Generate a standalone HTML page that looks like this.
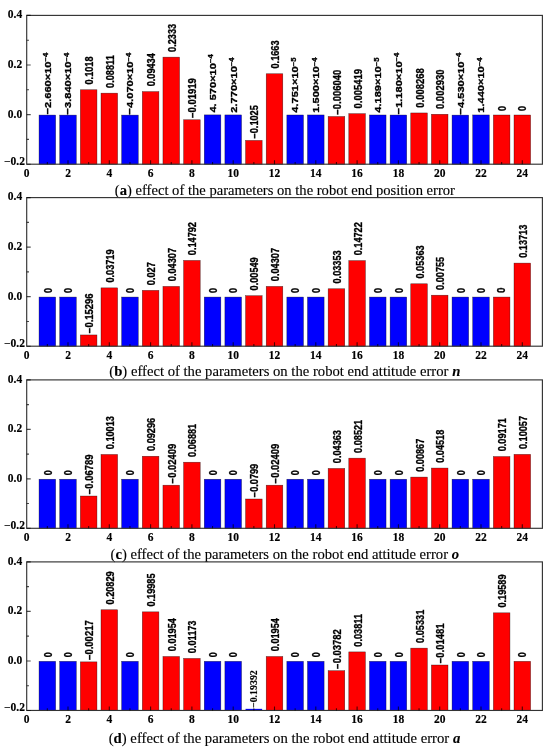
<!DOCTYPE html>
<html><head><meta charset="utf-8"><title>Figure</title>
<style>
html,body{margin:0;padding:0;background:#fff}
svg{display:block}
.lab{font-family:"Liberation Sans",Arial,sans-serif;font-weight:bold;font-size:10.2px;fill:#000;stroke:#000;stroke-width:0.32px}
.tk{font-family:"Liberation Serif","Times New Roman",serif;font-weight:bold;font-size:11.5px;fill:#000;stroke:#000;stroke-width:0.15px}
.cap{font-family:"Liberation Serif","Times New Roman",serif;font-size:14.6px;fill:#000;stroke:#000;stroke-width:0.12px}
</style></head><body>
<svg width="550" height="750" viewBox="0 0 550 750">
<rect width="550" height="750" fill="#fff"/>
<g>
<rect x="39.05" y="115.07" width="16.60" height="49.13" fill="#0000ff" stroke="#000" stroke-opacity="0.65" stroke-width="0.5"/>
<rect x="59.70" y="115.10" width="16.60" height="49.10" fill="#0000ff" stroke="#000" stroke-opacity="0.65" stroke-width="0.5"/>
<rect x="80.35" y="89.75" width="16.60" height="74.45" fill="#ff0000" stroke="#000" stroke-opacity="0.65" stroke-width="0.5"/>
<rect x="101.00" y="93.15" width="16.60" height="71.05" fill="#ff0000" stroke="#000" stroke-opacity="0.65" stroke-width="0.5"/>
<rect x="121.65" y="115.10" width="16.60" height="49.10" fill="#0000ff" stroke="#000" stroke-opacity="0.65" stroke-width="0.5"/>
<rect x="142.30" y="91.60" width="16.60" height="72.60" fill="#ff0000" stroke="#000" stroke-opacity="0.65" stroke-width="0.5"/>
<rect x="162.95" y="57.14" width="16.60" height="107.06" fill="#ff0000" stroke="#000" stroke-opacity="0.65" stroke-width="0.5"/>
<rect x="183.60" y="119.76" width="16.60" height="44.44" fill="#ff0000" stroke="#000" stroke-opacity="0.65" stroke-width="0.5"/>
<rect x="204.25" y="114.89" width="16.60" height="49.31" fill="#0000ff" stroke="#000" stroke-opacity="0.65" stroke-width="0.5"/>
<rect x="224.90" y="114.93" width="16.60" height="49.27" fill="#0000ff" stroke="#000" stroke-opacity="0.65" stroke-width="0.5"/>
<rect x="245.55" y="140.42" width="16.60" height="23.78" fill="#ff0000" stroke="#000" stroke-opacity="0.65" stroke-width="0.5"/>
<rect x="266.20" y="73.76" width="16.60" height="90.44" fill="#ff0000" stroke="#000" stroke-opacity="0.65" stroke-width="0.5"/>
<rect x="286.85" y="114.99" width="16.60" height="49.21" fill="#0000ff" stroke="#000" stroke-opacity="0.65" stroke-width="0.5"/>
<rect x="307.50" y="114.96" width="16.60" height="49.24" fill="#0000ff" stroke="#000" stroke-opacity="0.65" stroke-width="0.5"/>
<rect x="328.15" y="116.50" width="16.60" height="47.70" fill="#ff0000" stroke="#000" stroke-opacity="0.65" stroke-width="0.5"/>
<rect x="348.80" y="113.66" width="16.60" height="50.54" fill="#ff0000" stroke="#000" stroke-opacity="0.65" stroke-width="0.5"/>
<rect x="369.45" y="114.99" width="16.60" height="49.21" fill="#0000ff" stroke="#000" stroke-opacity="0.65" stroke-width="0.5"/>
<rect x="390.10" y="115.03" width="16.60" height="49.17" fill="#0000ff" stroke="#000" stroke-opacity="0.65" stroke-width="0.5"/>
<rect x="410.75" y="112.95" width="16.60" height="51.25" fill="#ff0000" stroke="#000" stroke-opacity="0.65" stroke-width="0.5"/>
<rect x="431.40" y="114.27" width="16.60" height="49.93" fill="#ff0000" stroke="#000" stroke-opacity="0.65" stroke-width="0.5"/>
<rect x="452.05" y="115.11" width="16.60" height="49.09" fill="#0000ff" stroke="#000" stroke-opacity="0.65" stroke-width="0.5"/>
<rect x="472.70" y="114.96" width="16.60" height="49.24" fill="#0000ff" stroke="#000" stroke-opacity="0.65" stroke-width="0.5"/>
<rect x="493.35" y="115.00" width="16.60" height="49.20" fill="#ff0000" stroke="#000" stroke-opacity="0.65" stroke-width="0.5"/>
<rect x="514.00" y="115.00" width="16.60" height="49.20" fill="#ff0000" stroke="#000" stroke-opacity="0.65" stroke-width="0.5"/>
<rect x="26.70" y="15.40" width="515.70" height="148.80" fill="none" stroke="#333" stroke-width="1.15"/>
<path d="M47.35 164.20v-2.30M68.00 164.20v-4.00M88.65 164.20v-2.30M109.30 164.20v-4.00M129.95 164.20v-2.30M150.60 164.20v-4.00M171.25 164.20v-2.30M191.90 164.20v-4.00M212.55 164.20v-2.30M233.20 164.20v-4.00M253.85 164.20v-2.30M274.50 164.20v-4.00M295.15 164.20v-2.30M315.80 164.20v-4.00M336.45 164.20v-2.30M357.10 164.20v-4.00M377.75 164.20v-2.30M398.40 164.20v-4.00M419.05 164.20v-2.30M439.70 164.20v-4.00M460.35 164.20v-2.30M481.00 164.20v-4.00M501.65 164.20v-2.30M522.30 164.20v-4.00M26.70 164.20h4.00M26.70 139.40h2.30M26.70 114.60h4.00M26.70 89.80h2.30M26.70 65.00h4.00M26.70 40.20h2.30M26.70 15.40h4.00" stroke="#000" stroke-opacity="0.7" stroke-width="1.1" fill="none"/>
<text class="tk" x="26.70" y="176.80" text-anchor="middle">0</text>
<text class="tk" x="68.00" y="176.80" text-anchor="middle">2</text>
<text class="tk" x="109.30" y="176.80" text-anchor="middle">4</text>
<text class="tk" x="150.60" y="176.80" text-anchor="middle">6</text>
<text class="tk" x="191.90" y="176.80" text-anchor="middle">8</text>
<text class="tk" x="233.20" y="176.80" text-anchor="middle">10</text>
<text class="tk" x="274.50" y="176.80" text-anchor="middle">12</text>
<text class="tk" x="315.80" y="176.80" text-anchor="middle">14</text>
<text class="tk" x="357.10" y="176.80" text-anchor="middle">16</text>
<text class="tk" x="398.40" y="176.80" text-anchor="middle">18</text>
<text class="tk" x="439.70" y="176.80" text-anchor="middle">20</text>
<text class="tk" x="481.00" y="176.80" text-anchor="middle">22</text>
<text class="tk" x="522.30" y="176.80" text-anchor="middle">24</text>
<text class="tk" x="22.20" y="18.20" text-anchor="end">0.4</text>
<text class="tk" x="22.20" y="68.00" text-anchor="end">0.2</text>
<text class="tk" x="22.20" y="117.70" text-anchor="end">0.0</text>
<text class="tk" x="24.90" y="164.50" text-anchor="end">−0.2</text>
<text class="lab" style="font-size:9.8px" transform="translate(50.65 114.37) rotate(-90) scale(1.13 1)" x="0" y="0">−2.660×10<tspan dy="-2.4" style="font-size:6.8px">−4</tspan></text>
<text class="lab" style="font-size:9.8px" transform="translate(71.30 114.40) rotate(-90) scale(1.13 1)" x="0" y="0">−3.840×10<tspan dy="-2.4" style="font-size:6.8px">−4</tspan></text>
<text class="lab" transform="translate(93.15 84.50) rotate(-90) scale(0.9 1)" x="0" y="0">0.1018</text>
<text class="lab" transform="translate(113.80 87.90) rotate(-90) scale(0.9 1)" x="0" y="0">0.08811</text>
<text class="lab" style="font-size:9.8px" transform="translate(133.25 114.40) rotate(-90) scale(1.13 1)" x="0" y="0">−4.070×10<tspan dy="-2.4" style="font-size:6.8px">−4</tspan></text>
<text class="lab" transform="translate(155.10 86.35) rotate(-90) scale(0.9 1)" x="0" y="0">0.09434</text>
<text class="lab" transform="translate(175.75 51.89) rotate(-90) scale(0.9 1)" x="0" y="0">0.2333</text>
<text class="lab" transform="translate(196.40 117.96) rotate(-90) scale(0.93 1)" x="0" y="0">−0.01919</text>
<text class="lab" style="font-size:9.8px" transform="translate(215.85 112.59) rotate(-90) scale(1.13 1)" x="0" y="0">4. 570×10<tspan dy="-2.4" style="font-size:6.8px">−4</tspan></text>
<text class="lab" style="font-size:9.8px" transform="translate(236.50 112.63) rotate(-90) scale(1.13 1)" x="0" y="0">2.770×10<tspan dy="-2.4" style="font-size:6.8px">−4</tspan></text>
<text class="lab" transform="translate(258.35 138.62) rotate(-90) scale(0.9 1)" x="0" y="0">−0.1025</text>
<text class="lab" transform="translate(279.00 68.51) rotate(-90) scale(0.9 1)" x="0" y="0">0.1663</text>
<text class="lab" style="font-size:9.8px" transform="translate(298.45 112.69) rotate(-90) scale(1.13 1)" x="0" y="0">4.751×10<tspan dy="-2.4" style="font-size:6.8px">−5</tspan></text>
<text class="lab" style="font-size:9.8px" transform="translate(319.10 112.66) rotate(-90) scale(1.13 1)" x="0" y="0">1.500×10<tspan dy="-2.4" style="font-size:6.8px">−4</tspan></text>
<text class="lab" transform="translate(340.95 114.70) rotate(-90) scale(0.93 1)" x="0" y="0">−0.006040</text>
<text class="lab" transform="translate(361.60 108.41) rotate(-90) scale(0.93 1)" x="0" y="0">0.005419</text>
<text class="lab" style="font-size:9.8px" transform="translate(381.05 112.69) rotate(-90) scale(1.13 1)" x="0" y="0">4.189×10<tspan dy="-2.4" style="font-size:6.8px">−5</tspan></text>
<text class="lab" style="font-size:9.8px" transform="translate(401.70 114.33) rotate(-90) scale(1.13 1)" x="0" y="0">−1.180×10<tspan dy="-2.4" style="font-size:6.8px">−4</tspan></text>
<text class="lab" transform="translate(423.55 107.70) rotate(-90) scale(0.93 1)" x="0" y="0">0.008268</text>
<text class="lab" transform="translate(444.20 109.02) rotate(-90) scale(0.93 1)" x="0" y="0">0.002930</text>
<text class="lab" style="font-size:9.8px" transform="translate(463.65 114.41) rotate(-90) scale(1.13 1)" x="0" y="0">−4.530×10<tspan dy="-2.4" style="font-size:6.8px">−4</tspan></text>
<text class="lab" style="font-size:9.8px" transform="translate(484.30 112.66) rotate(-90) scale(1.13 1)" x="0" y="0">1.440×10<tspan dy="-2.4" style="font-size:6.8px">−4</tspan></text>
<text class="lab" style="font-size:10px" transform="translate(505.80 110.90) rotate(-90) scale(0.9 1)" x="0" y="0">0</text>
<text class="lab" style="font-size:10px" transform="translate(526.45 110.90) rotate(-90) scale(0.9 1)" x="0" y="0">0</text>
<text class="cap" style="font-size:14.6px" x="284.90" y="194.50" text-anchor="middle">(<tspan font-weight="bold">a</tspan>) effect of the parameters on the robot end position error</text>
</g>
<g>
<rect x="39.05" y="297.07" width="16.60" height="49.13" fill="#0000ff" stroke="#000" stroke-opacity="0.65" stroke-width="0.5"/>
<rect x="59.70" y="297.07" width="16.60" height="49.13" fill="#0000ff" stroke="#000" stroke-opacity="0.65" stroke-width="0.5"/>
<rect x="80.35" y="334.95" width="16.60" height="11.25" fill="#ff0000" stroke="#000" stroke-opacity="0.65" stroke-width="0.5"/>
<rect x="101.00" y="287.86" width="16.60" height="58.34" fill="#ff0000" stroke="#000" stroke-opacity="0.65" stroke-width="0.5"/>
<rect x="121.65" y="297.07" width="16.60" height="49.13" fill="#0000ff" stroke="#000" stroke-opacity="0.65" stroke-width="0.5"/>
<rect x="142.30" y="290.38" width="16.60" height="55.82" fill="#ff0000" stroke="#000" stroke-opacity="0.65" stroke-width="0.5"/>
<rect x="162.95" y="286.40" width="16.60" height="59.80" fill="#ff0000" stroke="#000" stroke-opacity="0.65" stroke-width="0.5"/>
<rect x="183.60" y="260.43" width="16.60" height="85.77" fill="#ff0000" stroke="#000" stroke-opacity="0.65" stroke-width="0.5"/>
<rect x="204.25" y="297.07" width="16.60" height="49.13" fill="#0000ff" stroke="#000" stroke-opacity="0.65" stroke-width="0.5"/>
<rect x="224.90" y="297.07" width="16.60" height="49.13" fill="#0000ff" stroke="#000" stroke-opacity="0.65" stroke-width="0.5"/>
<rect x="245.55" y="295.71" width="16.60" height="50.49" fill="#ff0000" stroke="#000" stroke-opacity="0.65" stroke-width="0.5"/>
<rect x="266.20" y="286.40" width="16.60" height="59.80" fill="#ff0000" stroke="#000" stroke-opacity="0.65" stroke-width="0.5"/>
<rect x="286.85" y="297.07" width="16.60" height="49.13" fill="#0000ff" stroke="#000" stroke-opacity="0.65" stroke-width="0.5"/>
<rect x="307.50" y="297.07" width="16.60" height="49.13" fill="#0000ff" stroke="#000" stroke-opacity="0.65" stroke-width="0.5"/>
<rect x="328.15" y="288.76" width="16.60" height="57.44" fill="#ff0000" stroke="#000" stroke-opacity="0.65" stroke-width="0.5"/>
<rect x="348.80" y="260.61" width="16.60" height="85.59" fill="#ff0000" stroke="#000" stroke-opacity="0.65" stroke-width="0.5"/>
<rect x="369.45" y="297.07" width="16.60" height="49.13" fill="#0000ff" stroke="#000" stroke-opacity="0.65" stroke-width="0.5"/>
<rect x="390.10" y="297.07" width="16.60" height="49.13" fill="#0000ff" stroke="#000" stroke-opacity="0.65" stroke-width="0.5"/>
<rect x="410.75" y="283.78" width="16.60" height="62.42" fill="#ff0000" stroke="#000" stroke-opacity="0.65" stroke-width="0.5"/>
<rect x="431.40" y="295.20" width="16.60" height="51.00" fill="#ff0000" stroke="#000" stroke-opacity="0.65" stroke-width="0.5"/>
<rect x="452.05" y="297.07" width="16.60" height="49.13" fill="#0000ff" stroke="#000" stroke-opacity="0.65" stroke-width="0.5"/>
<rect x="472.70" y="297.07" width="16.60" height="49.13" fill="#0000ff" stroke="#000" stroke-opacity="0.65" stroke-width="0.5"/>
<rect x="493.35" y="297.07" width="16.60" height="49.13" fill="#ff0000" stroke="#000" stroke-opacity="0.65" stroke-width="0.5"/>
<rect x="514.00" y="263.10" width="16.60" height="83.10" fill="#ff0000" stroke="#000" stroke-opacity="0.65" stroke-width="0.5"/>
<rect x="26.70" y="197.60" width="515.70" height="148.60" fill="none" stroke="#333" stroke-width="1.15"/>
<path d="M47.35 346.20v-2.30M68.00 346.20v-4.00M88.65 346.20v-2.30M109.30 346.20v-4.00M129.95 346.20v-2.30M150.60 346.20v-4.00M171.25 346.20v-2.30M191.90 346.20v-4.00M212.55 346.20v-2.30M233.20 346.20v-4.00M253.85 346.20v-2.30M274.50 346.20v-4.00M295.15 346.20v-2.30M315.80 346.20v-4.00M336.45 346.20v-2.30M357.10 346.20v-4.00M377.75 346.20v-2.30M398.40 346.20v-4.00M419.05 346.20v-2.30M439.70 346.20v-4.00M460.35 346.20v-2.30M481.00 346.20v-4.00M501.65 346.20v-2.30M522.30 346.20v-4.00M26.70 346.20h4.00M26.70 321.43h2.30M26.70 296.67h4.00M26.70 271.90h2.30M26.70 247.13h4.00M26.70 222.37h2.30M26.70 197.60h4.00" stroke="#000" stroke-opacity="0.7" stroke-width="1.1" fill="none"/>
<text class="tk" x="26.70" y="358.80" text-anchor="middle">0</text>
<text class="tk" x="68.00" y="358.80" text-anchor="middle">2</text>
<text class="tk" x="109.30" y="358.80" text-anchor="middle">4</text>
<text class="tk" x="150.60" y="358.80" text-anchor="middle">6</text>
<text class="tk" x="191.90" y="358.80" text-anchor="middle">8</text>
<text class="tk" x="233.20" y="358.80" text-anchor="middle">10</text>
<text class="tk" x="274.50" y="358.80" text-anchor="middle">12</text>
<text class="tk" x="315.80" y="358.80" text-anchor="middle">14</text>
<text class="tk" x="357.10" y="358.80" text-anchor="middle">16</text>
<text class="tk" x="398.40" y="358.80" text-anchor="middle">18</text>
<text class="tk" x="439.70" y="358.80" text-anchor="middle">20</text>
<text class="tk" x="481.00" y="358.80" text-anchor="middle">22</text>
<text class="tk" x="522.30" y="358.80" text-anchor="middle">24</text>
<text class="tk" x="22.20" y="200.40" text-anchor="end">0.4</text>
<text class="tk" x="22.20" y="250.13" text-anchor="end">0.2</text>
<text class="tk" x="22.20" y="299.77" text-anchor="end">0.0</text>
<text class="tk" x="24.90" y="346.50" text-anchor="end">−0.2</text>
<text class="lab" style="font-size:10px" transform="translate(51.50 292.97) rotate(-90) scale(0.9 1)" x="0" y="0">0</text>
<text class="lab" style="font-size:10px" transform="translate(72.15 292.97) rotate(-90) scale(0.9 1)" x="0" y="0">0</text>
<text class="lab" transform="translate(93.15 333.15) rotate(-90) scale(0.93 1)" x="0" y="0">−0.15296</text>
<text class="lab" transform="translate(113.80 282.61) rotate(-90) scale(0.9 1)" x="0" y="0">0.03719</text>
<text class="lab" style="font-size:10px" transform="translate(134.10 292.97) rotate(-90) scale(0.9 1)" x="0" y="0">0</text>
<text class="lab" transform="translate(155.10 285.13) rotate(-90) scale(0.9 1)" x="0" y="0">0.027</text>
<text class="lab" transform="translate(175.75 281.15) rotate(-90) scale(0.9 1)" x="0" y="0">0.04307</text>
<text class="lab" transform="translate(196.40 255.18) rotate(-90) scale(0.9 1)" x="0" y="0">0.14792</text>
<text class="lab" style="font-size:10px" transform="translate(216.70 292.97) rotate(-90) scale(0.9 1)" x="0" y="0">0</text>
<text class="lab" style="font-size:10px" transform="translate(237.35 292.97) rotate(-90) scale(0.9 1)" x="0" y="0">0</text>
<text class="lab" transform="translate(258.35 290.46) rotate(-90) scale(0.9 1)" x="0" y="0">0.00549</text>
<text class="lab" transform="translate(279.00 281.15) rotate(-90) scale(0.9 1)" x="0" y="0">0.04307</text>
<text class="lab" style="font-size:10px" transform="translate(299.30 292.97) rotate(-90) scale(0.9 1)" x="0" y="0">0</text>
<text class="lab" style="font-size:10px" transform="translate(319.95 292.97) rotate(-90) scale(0.9 1)" x="0" y="0">0</text>
<text class="lab" transform="translate(340.95 283.51) rotate(-90) scale(0.9 1)" x="0" y="0">0.03353</text>
<text class="lab" transform="translate(361.60 255.36) rotate(-90) scale(0.9 1)" x="0" y="0">0.14722</text>
<text class="lab" style="font-size:10px" transform="translate(381.90 292.97) rotate(-90) scale(0.9 1)" x="0" y="0">0</text>
<text class="lab" style="font-size:10px" transform="translate(402.55 292.97) rotate(-90) scale(0.9 1)" x="0" y="0">0</text>
<text class="lab" transform="translate(423.55 278.53) rotate(-90) scale(0.9 1)" x="0" y="0">0.05363</text>
<text class="lab" transform="translate(444.20 289.95) rotate(-90) scale(0.9 1)" x="0" y="0">0.00755</text>
<text class="lab" style="font-size:10px" transform="translate(464.50 292.97) rotate(-90) scale(0.9 1)" x="0" y="0">0</text>
<text class="lab" style="font-size:10px" transform="translate(485.15 292.97) rotate(-90) scale(0.9 1)" x="0" y="0">0</text>
<text class="lab" style="font-size:11px" transform="translate(504.95 292.97) rotate(-90) scale(0.9 1)" x="0" y="0">0</text>
<text class="lab" transform="translate(526.80 257.85) rotate(-90) scale(0.9 1)" x="0" y="0">0.13713</text>
<text class="cap" style="font-size:14.66px" x="284.80" y="376.10" text-anchor="middle">(<tspan font-weight="bold">b</tspan>) effect of the parameters on the robot end attitude error <tspan font-weight="bold" font-style="italic">n</tspan></text>
</g>
<g>
<rect x="39.05" y="479.23" width="16.60" height="49.07" fill="#0000ff" stroke="#000" stroke-opacity="0.65" stroke-width="0.5"/>
<rect x="59.70" y="479.23" width="16.60" height="49.07" fill="#0000ff" stroke="#000" stroke-opacity="0.65" stroke-width="0.5"/>
<rect x="80.35" y="496.02" width="16.60" height="32.28" fill="#ff0000" stroke="#000" stroke-opacity="0.65" stroke-width="0.5"/>
<rect x="101.00" y="454.47" width="16.60" height="73.83" fill="#ff0000" stroke="#000" stroke-opacity="0.65" stroke-width="0.5"/>
<rect x="121.65" y="479.23" width="16.60" height="49.07" fill="#0000ff" stroke="#000" stroke-opacity="0.65" stroke-width="0.5"/>
<rect x="142.30" y="456.24" width="16.60" height="72.06" fill="#ff0000" stroke="#000" stroke-opacity="0.65" stroke-width="0.5"/>
<rect x="162.95" y="485.19" width="16.60" height="43.11" fill="#ff0000" stroke="#000" stroke-opacity="0.65" stroke-width="0.5"/>
<rect x="183.60" y="462.21" width="16.60" height="66.09" fill="#ff0000" stroke="#000" stroke-opacity="0.65" stroke-width="0.5"/>
<rect x="204.25" y="479.23" width="16.60" height="49.07" fill="#0000ff" stroke="#000" stroke-opacity="0.65" stroke-width="0.5"/>
<rect x="224.90" y="479.23" width="16.60" height="49.07" fill="#0000ff" stroke="#000" stroke-opacity="0.65" stroke-width="0.5"/>
<rect x="245.55" y="499.00" width="16.60" height="29.30" fill="#ff0000" stroke="#000" stroke-opacity="0.65" stroke-width="0.5"/>
<rect x="266.20" y="485.19" width="16.60" height="43.11" fill="#ff0000" stroke="#000" stroke-opacity="0.65" stroke-width="0.5"/>
<rect x="286.85" y="479.23" width="16.60" height="49.07" fill="#0000ff" stroke="#000" stroke-opacity="0.65" stroke-width="0.5"/>
<rect x="307.50" y="479.23" width="16.60" height="49.07" fill="#0000ff" stroke="#000" stroke-opacity="0.65" stroke-width="0.5"/>
<rect x="328.15" y="468.44" width="16.60" height="59.86" fill="#ff0000" stroke="#000" stroke-opacity="0.65" stroke-width="0.5"/>
<rect x="348.80" y="458.16" width="16.60" height="70.14" fill="#ff0000" stroke="#000" stroke-opacity="0.65" stroke-width="0.5"/>
<rect x="369.45" y="479.23" width="16.60" height="49.07" fill="#0000ff" stroke="#000" stroke-opacity="0.65" stroke-width="0.5"/>
<rect x="390.10" y="479.23" width="16.60" height="49.07" fill="#0000ff" stroke="#000" stroke-opacity="0.65" stroke-width="0.5"/>
<rect x="410.75" y="477.09" width="16.60" height="51.21" fill="#ff0000" stroke="#000" stroke-opacity="0.65" stroke-width="0.5"/>
<rect x="431.40" y="468.06" width="16.60" height="60.24" fill="#ff0000" stroke="#000" stroke-opacity="0.65" stroke-width="0.5"/>
<rect x="452.05" y="479.23" width="16.60" height="49.07" fill="#0000ff" stroke="#000" stroke-opacity="0.65" stroke-width="0.5"/>
<rect x="472.70" y="479.23" width="16.60" height="49.07" fill="#0000ff" stroke="#000" stroke-opacity="0.65" stroke-width="0.5"/>
<rect x="493.35" y="456.55" width="16.60" height="71.75" fill="#ff0000" stroke="#000" stroke-opacity="0.65" stroke-width="0.5"/>
<rect x="514.00" y="454.36" width="16.60" height="73.94" fill="#ff0000" stroke="#000" stroke-opacity="0.65" stroke-width="0.5"/>
<rect x="26.70" y="379.90" width="515.70" height="148.40" fill="none" stroke="#333" stroke-width="1.15"/>
<path d="M47.35 528.30v-2.30M68.00 528.30v-4.00M88.65 528.30v-2.30M109.30 528.30v-4.00M129.95 528.30v-2.30M150.60 528.30v-4.00M171.25 528.30v-2.30M191.90 528.30v-4.00M212.55 528.30v-2.30M233.20 528.30v-4.00M253.85 528.30v-2.30M274.50 528.30v-4.00M295.15 528.30v-2.30M315.80 528.30v-4.00M336.45 528.30v-2.30M357.10 528.30v-4.00M377.75 528.30v-2.30M398.40 528.30v-4.00M419.05 528.30v-2.30M439.70 528.30v-4.00M460.35 528.30v-2.30M481.00 528.30v-4.00M501.65 528.30v-2.30M522.30 528.30v-4.00M26.70 528.30h4.00M26.70 503.57h2.30M26.70 478.83h4.00M26.70 454.10h2.30M26.70 429.37h4.00M26.70 404.63h2.30M26.70 379.90h4.00" stroke="#000" stroke-opacity="0.7" stroke-width="1.1" fill="none"/>
<text class="tk" x="26.70" y="540.90" text-anchor="middle">0</text>
<text class="tk" x="68.00" y="540.90" text-anchor="middle">2</text>
<text class="tk" x="109.30" y="540.90" text-anchor="middle">4</text>
<text class="tk" x="150.60" y="540.90" text-anchor="middle">6</text>
<text class="tk" x="191.90" y="540.90" text-anchor="middle">8</text>
<text class="tk" x="233.20" y="540.90" text-anchor="middle">10</text>
<text class="tk" x="274.50" y="540.90" text-anchor="middle">12</text>
<text class="tk" x="315.80" y="540.90" text-anchor="middle">14</text>
<text class="tk" x="357.10" y="540.90" text-anchor="middle">16</text>
<text class="tk" x="398.40" y="540.90" text-anchor="middle">18</text>
<text class="tk" x="439.70" y="540.90" text-anchor="middle">20</text>
<text class="tk" x="481.00" y="540.90" text-anchor="middle">22</text>
<text class="tk" x="522.30" y="540.90" text-anchor="middle">24</text>
<text class="tk" x="22.20" y="382.70" text-anchor="end">0.4</text>
<text class="tk" x="22.20" y="432.37" text-anchor="end">0.2</text>
<text class="tk" x="22.20" y="481.93" text-anchor="end">0.0</text>
<text class="tk" x="24.90" y="528.60" text-anchor="end">−0.2</text>
<text class="lab" style="font-size:10px" transform="translate(51.50 475.13) rotate(-90) scale(0.9 1)" x="0" y="0">0</text>
<text class="lab" style="font-size:10px" transform="translate(72.15 475.13) rotate(-90) scale(0.9 1)" x="0" y="0">0</text>
<text class="lab" transform="translate(93.15 494.22) rotate(-90) scale(0.93 1)" x="0" y="0">−0.06789</text>
<text class="lab" transform="translate(113.80 449.22) rotate(-90) scale(0.9 1)" x="0" y="0">0.10013</text>
<text class="lab" style="font-size:10px" transform="translate(134.10 475.13) rotate(-90) scale(0.9 1)" x="0" y="0">0</text>
<text class="lab" transform="translate(155.10 450.99) rotate(-90) scale(0.9 1)" x="0" y="0">0.09296</text>
<text class="lab" transform="translate(175.75 483.39) rotate(-90) scale(0.93 1)" x="0" y="0">−0.02409</text>
<text class="lab" transform="translate(196.40 456.96) rotate(-90) scale(0.9 1)" x="0" y="0">0.06881</text>
<text class="lab" style="font-size:10px" transform="translate(216.70 475.13) rotate(-90) scale(0.9 1)" x="0" y="0">0</text>
<text class="lab" style="font-size:10px" transform="translate(237.35 475.13) rotate(-90) scale(0.9 1)" x="0" y="0">0</text>
<text class="lab" transform="translate(258.35 497.20) rotate(-90) scale(0.9 1)" x="0" y="0">−0.0799</text>
<text class="lab" transform="translate(279.00 483.39) rotate(-90) scale(0.93 1)" x="0" y="0">−0.02409</text>
<text class="lab" style="font-size:10px" transform="translate(299.30 475.13) rotate(-90) scale(0.9 1)" x="0" y="0">0</text>
<text class="lab" style="font-size:10px" transform="translate(319.95 475.13) rotate(-90) scale(0.9 1)" x="0" y="0">0</text>
<text class="lab" transform="translate(340.95 463.19) rotate(-90) scale(0.9 1)" x="0" y="0">0.04363</text>
<text class="lab" transform="translate(361.60 452.91) rotate(-90) scale(0.9 1)" x="0" y="0">0.08521</text>
<text class="lab" style="font-size:10px" transform="translate(381.90 475.13) rotate(-90) scale(0.9 1)" x="0" y="0">0</text>
<text class="lab" style="font-size:10px" transform="translate(402.55 475.13) rotate(-90) scale(0.9 1)" x="0" y="0">0</text>
<text class="lab" transform="translate(423.55 471.84) rotate(-90) scale(0.9 1)" x="0" y="0">0.00867</text>
<text class="lab" transform="translate(444.20 462.81) rotate(-90) scale(0.9 1)" x="0" y="0">0.04518</text>
<text class="lab" style="font-size:10px" transform="translate(464.50 475.13) rotate(-90) scale(0.9 1)" x="0" y="0">0</text>
<text class="lab" style="font-size:10px" transform="translate(485.15 475.13) rotate(-90) scale(0.9 1)" x="0" y="0">0</text>
<text class="lab" transform="translate(506.15 451.30) rotate(-90) scale(0.9 1)" x="0" y="0">0.09171</text>
<text class="lab" transform="translate(526.80 449.11) rotate(-90) scale(0.9 1)" x="0" y="0">0.10057</text>
<text class="cap" style="font-size:14.66px" x="284.80" y="558.70" text-anchor="middle">(<tspan font-weight="bold">c</tspan>) effect of the parameters on the robot end attitude error <tspan font-weight="bold" font-style="italic">o</tspan></text>
</g>
<g>
<rect x="39.05" y="661.33" width="16.60" height="49.12" fill="#0000ff" stroke="#000" stroke-opacity="0.65" stroke-width="0.5"/>
<rect x="59.70" y="661.33" width="16.60" height="49.12" fill="#0000ff" stroke="#000" stroke-opacity="0.65" stroke-width="0.5"/>
<rect x="80.35" y="661.87" width="16.60" height="48.58" fill="#ff0000" stroke="#000" stroke-opacity="0.65" stroke-width="0.5"/>
<rect x="101.00" y="609.76" width="16.60" height="100.69" fill="#ff0000" stroke="#000" stroke-opacity="0.65" stroke-width="0.5"/>
<rect x="121.65" y="661.33" width="16.60" height="49.12" fill="#0000ff" stroke="#000" stroke-opacity="0.65" stroke-width="0.5"/>
<rect x="142.30" y="611.85" width="16.60" height="98.60" fill="#ff0000" stroke="#000" stroke-opacity="0.65" stroke-width="0.5"/>
<rect x="162.95" y="656.50" width="16.60" height="53.95" fill="#ff0000" stroke="#000" stroke-opacity="0.65" stroke-width="0.5"/>
<rect x="183.60" y="658.43" width="16.60" height="52.02" fill="#ff0000" stroke="#000" stroke-opacity="0.65" stroke-width="0.5"/>
<rect x="204.25" y="661.33" width="16.60" height="49.12" fill="#0000ff" stroke="#000" stroke-opacity="0.65" stroke-width="0.5"/>
<rect x="224.90" y="661.33" width="16.60" height="49.12" fill="#0000ff" stroke="#000" stroke-opacity="0.65" stroke-width="0.5"/>
<rect x="245.55" y="708.85" width="16.60" height="1.60" fill="#0000ff"/>
<rect x="266.20" y="656.50" width="16.60" height="53.95" fill="#ff0000" stroke="#000" stroke-opacity="0.65" stroke-width="0.5"/>
<rect x="286.85" y="661.33" width="16.60" height="49.12" fill="#0000ff" stroke="#000" stroke-opacity="0.65" stroke-width="0.5"/>
<rect x="307.50" y="661.33" width="16.60" height="49.12" fill="#0000ff" stroke="#000" stroke-opacity="0.65" stroke-width="0.5"/>
<rect x="328.15" y="670.70" width="16.60" height="39.75" fill="#ff0000" stroke="#000" stroke-opacity="0.65" stroke-width="0.5"/>
<rect x="348.80" y="651.90" width="16.60" height="58.55" fill="#ff0000" stroke="#000" stroke-opacity="0.65" stroke-width="0.5"/>
<rect x="369.45" y="661.33" width="16.60" height="49.12" fill="#0000ff" stroke="#000" stroke-opacity="0.65" stroke-width="0.5"/>
<rect x="390.10" y="661.33" width="16.60" height="49.12" fill="#0000ff" stroke="#000" stroke-opacity="0.65" stroke-width="0.5"/>
<rect x="410.75" y="648.13" width="16.60" height="62.32" fill="#ff0000" stroke="#000" stroke-opacity="0.65" stroke-width="0.5"/>
<rect x="431.40" y="665.00" width="16.60" height="45.45" fill="#ff0000" stroke="#000" stroke-opacity="0.65" stroke-width="0.5"/>
<rect x="452.05" y="661.33" width="16.60" height="49.12" fill="#0000ff" stroke="#000" stroke-opacity="0.65" stroke-width="0.5"/>
<rect x="472.70" y="661.33" width="16.60" height="49.12" fill="#0000ff" stroke="#000" stroke-opacity="0.65" stroke-width="0.5"/>
<rect x="493.35" y="612.83" width="16.60" height="97.62" fill="#ff0000" stroke="#000" stroke-opacity="0.65" stroke-width="0.5"/>
<rect x="514.00" y="661.33" width="16.60" height="49.12" fill="#ff0000" stroke="#000" stroke-opacity="0.65" stroke-width="0.5"/>
<rect x="26.70" y="561.90" width="515.70" height="148.55" fill="none" stroke="#333" stroke-width="1.15"/>
<path d="M47.35 710.45v-2.30M68.00 710.45v-4.00M88.65 710.45v-2.30M109.30 710.45v-4.00M129.95 710.45v-2.30M150.60 710.45v-4.00M171.25 710.45v-2.30M191.90 710.45v-4.00M212.55 710.45v-2.30M233.20 710.45v-4.00M253.85 710.45v-2.30M274.50 710.45v-4.00M295.15 710.45v-2.30M315.80 710.45v-4.00M336.45 710.45v-2.30M357.10 710.45v-4.00M377.75 710.45v-2.30M398.40 710.45v-4.00M419.05 710.45v-2.30M439.70 710.45v-4.00M460.35 710.45v-2.30M481.00 710.45v-4.00M501.65 710.45v-2.30M522.30 710.45v-4.00M26.70 710.45h4.00M26.70 685.69h2.30M26.70 660.93h4.00M26.70 636.17h2.30M26.70 611.42h4.00M26.70 586.66h2.30M26.70 561.90h4.00" stroke="#000" stroke-opacity="0.7" stroke-width="1.1" fill="none"/>
<text class="tk" x="26.70" y="723.05" text-anchor="middle">0</text>
<text class="tk" x="68.00" y="723.05" text-anchor="middle">2</text>
<text class="tk" x="109.30" y="723.05" text-anchor="middle">4</text>
<text class="tk" x="150.60" y="723.05" text-anchor="middle">6</text>
<text class="tk" x="191.90" y="723.05" text-anchor="middle">8</text>
<text class="tk" x="233.20" y="723.05" text-anchor="middle">10</text>
<text class="tk" x="274.50" y="723.05" text-anchor="middle">12</text>
<text class="tk" x="315.80" y="723.05" text-anchor="middle">14</text>
<text class="tk" x="357.10" y="723.05" text-anchor="middle">16</text>
<text class="tk" x="398.40" y="723.05" text-anchor="middle">18</text>
<text class="tk" x="439.70" y="723.05" text-anchor="middle">20</text>
<text class="tk" x="481.00" y="723.05" text-anchor="middle">22</text>
<text class="tk" x="522.30" y="723.05" text-anchor="middle">24</text>
<text class="tk" x="22.20" y="564.70" text-anchor="end">0.4</text>
<text class="tk" x="22.20" y="614.42" text-anchor="end">0.2</text>
<text class="tk" x="22.20" y="664.03" text-anchor="end">0.0</text>
<text class="tk" x="24.90" y="710.75" text-anchor="end">−0.2</text>
<text class="lab" style="font-size:10px" transform="translate(51.50 657.23) rotate(-90) scale(0.9 1)" x="0" y="0">0</text>
<text class="lab" style="font-size:10px" transform="translate(72.15 657.23) rotate(-90) scale(0.9 1)" x="0" y="0">0</text>
<text class="lab" transform="translate(93.15 660.07) rotate(-90) scale(0.93 1)" x="0" y="0">−0.00217</text>
<text class="lab" transform="translate(113.80 604.51) rotate(-90) scale(0.9 1)" x="0" y="0">0.20829</text>
<text class="lab" style="font-size:10px" transform="translate(134.10 657.23) rotate(-90) scale(0.9 1)" x="0" y="0">0</text>
<text class="lab" transform="translate(155.10 606.60) rotate(-90) scale(0.9 1)" x="0" y="0">0.19985</text>
<text class="lab" transform="translate(175.75 651.25) rotate(-90) scale(0.9 1)" x="0" y="0">0.01954</text>
<text class="lab" transform="translate(196.40 653.18) rotate(-90) scale(0.9 1)" x="0" y="0">0.01173</text>
<text class="lab" style="font-size:10px" transform="translate(216.70 657.23) rotate(-90) scale(0.9 1)" x="0" y="0">0</text>
<text class="lab" style="font-size:10px" transform="translate(237.35 657.23) rotate(-90) scale(0.9 1)" x="0" y="0">0</text>
<text class="tk" style="font-size:9.9px" transform="translate(257.45 707.95) rotate(-90)" x="0" y="0">−0.19392</text>
<text class="lab" transform="translate(279.00 651.25) rotate(-90) scale(0.9 1)" x="0" y="0">0.01954</text>
<text class="lab" style="font-size:10px" transform="translate(299.30 657.23) rotate(-90) scale(0.9 1)" x="0" y="0">0</text>
<text class="lab" style="font-size:10px" transform="translate(319.95 657.23) rotate(-90) scale(0.9 1)" x="0" y="0">0</text>
<text class="lab" transform="translate(340.95 668.90) rotate(-90) scale(0.93 1)" x="0" y="0">−0.03782</text>
<text class="lab" transform="translate(361.60 646.65) rotate(-90) scale(0.9 1)" x="0" y="0">0.03811</text>
<text class="lab" style="font-size:10px" transform="translate(381.90 657.23) rotate(-90) scale(0.9 1)" x="0" y="0">0</text>
<text class="lab" style="font-size:10px" transform="translate(402.55 657.23) rotate(-90) scale(0.9 1)" x="0" y="0">0</text>
<text class="lab" transform="translate(423.55 642.88) rotate(-90) scale(0.9 1)" x="0" y="0">0.05331</text>
<text class="lab" transform="translate(444.20 663.20) rotate(-90) scale(0.93 1)" x="0" y="0">−0.01481</text>
<text class="lab" style="font-size:10px" transform="translate(464.50 657.23) rotate(-90) scale(0.9 1)" x="0" y="0">0</text>
<text class="lab" style="font-size:10px" transform="translate(485.15 657.23) rotate(-90) scale(0.9 1)" x="0" y="0">0</text>
<text class="lab" transform="translate(506.15 607.58) rotate(-90) scale(0.9 1)" x="0" y="0">0.19589</text>
<text class="lab" style="font-size:10px" transform="translate(526.45 657.23) rotate(-90) scale(0.9 1)" x="0" y="0">0</text>
<text class="cap" style="font-size:14.73px" x="284.50" y="743.05" text-anchor="middle">(<tspan font-weight="bold">d</tspan>) effect of the parameters on the robot end attitude error <tspan font-weight="bold" font-style="italic">a</tspan></text>
</g>
</svg>
</body></html>
